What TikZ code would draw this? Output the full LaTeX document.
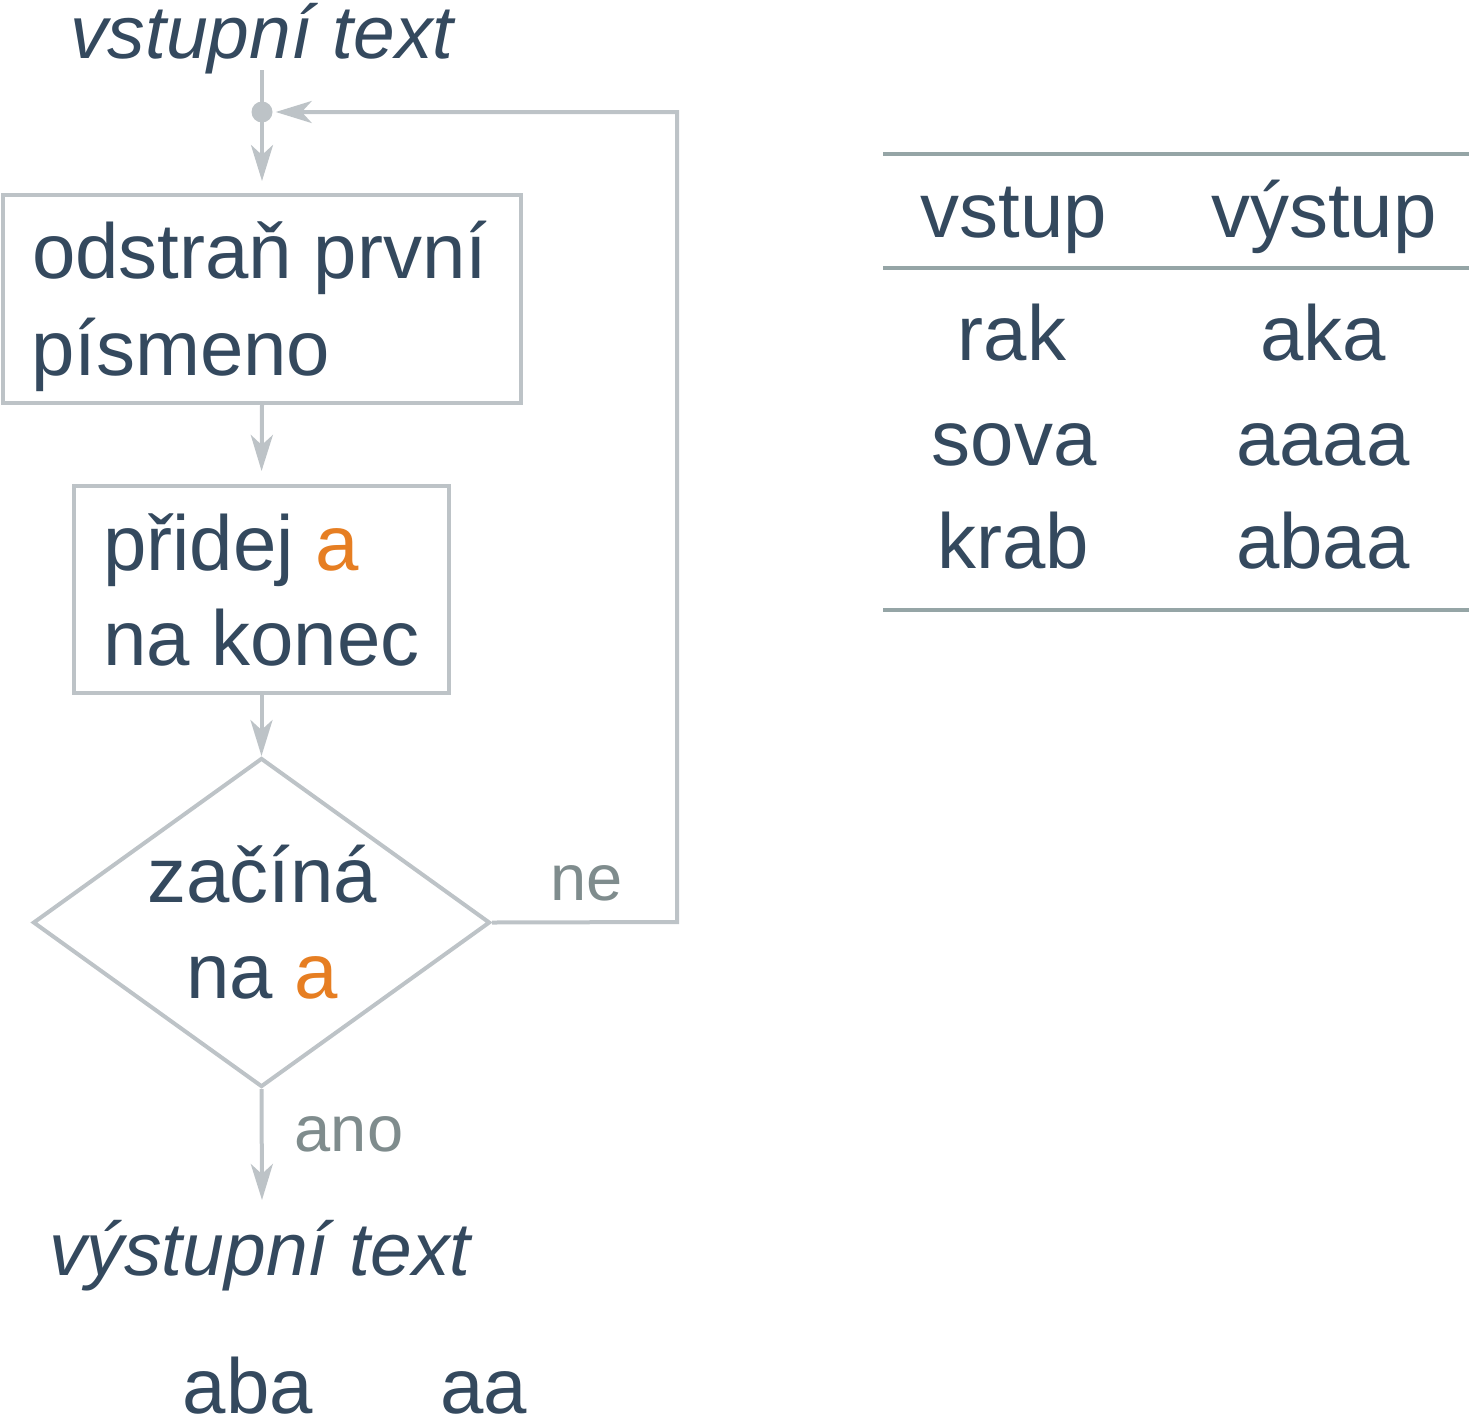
\documentclass[tikz,border=0pt]{standalone}
\usepackage{fontspec}
\setmainfont{Liberation Sans}
\usetikzlibrary{arrows.meta,shapes.geometric}
\definecolor{ink}{HTML}{34495E}
\definecolor{hl}{HTML}{E67E22}
\definecolor{wire}{HTML}{BDC3C7}
\definecolor{lbl}{HTML}{7F8C8D}
\definecolor{rulec}{HTML}{95A5A6}
\tikzset{
  txt/.style={font=\fontsize{78}{94}\selectfont, text=ink, inner sep=0pt, anchor=base},
  ital/.style={font=\fontsize{75}{90}\selectfont\itshape, text=ink, inner sep=0pt, anchor=base},
  small/.style={font=\fontsize{65}{80}\selectfont, text=lbl, inner sep=0pt, anchor=base},
  stepbox/.style={draw=wire, line width=4pt, rectangle, inner sep=0pt},
  decision/.style={draw=wire, line width=4pt, diamond, inner sep=0pt},
  wireline/.style={draw=wire, line width=4pt},
  arr/.style={wireline, -{Stealth[length=36pt, width=22pt, inset=10pt]}},
  tabrule/.style={draw=rulec, line width=4pt},
}
\begin{document}
\begin{tikzpicture}[x=1pt,y=-1pt]
\path[use as bounding box] (0,0) rectangle (1469,1427);

% input
\node[ital] (intext) at (262,58) {vstupní text};
\coordinate (instart) at (262,70);
\node[circle, fill=wire, inner sep=0pt, minimum size=21pt] (dot) at (262,112) {};

% boxes
\node[stepbox, minimum width=518pt, minimum height=208pt] (b1) at (262,299) {};
\node[txt, anchor=base west] (b1l1) at (32,278) {odstraň první};
\node[txt, anchor=base west] (b1l2) at (31,375) {písmeno};

\node[stepbox, minimum width=375pt, minimum height=207pt] (b2) at (261.5,589.5) {};
\node[txt, anchor=base west] (b2l1) at (103,570) {přidej \textcolor{hl}{a}};
\node[txt, anchor=base west] (b2l2) at (103,665) {na konec};

% decision
\node[decision, minimum width=457pt, minimum height=329pt] (dec) at (261.5,922.5) {};
\node[txt] (d1) at (262,902) {začíná};
\node[txt] (d2) at (262,998) {na \textcolor{hl}{a}};

\coordinate (loopb) at (677,922);
\coordinate (loopt) at (677,112);
\node[small] (ne) at (587,900) {ne};

\coordinate (outend) at (262,1200);
\node[small] (ano) at (349,1151) {ano};
\node[ital] (outtext) at (260,1275) {výstupní text};

\node[txt] (r1) at (248,1413) {aba};
\node[txt] (r2) at (484,1413) {aa};

% connectors
\draw[wireline] (instart) -- (dot.center);
\draw[arr, shorten >=12pt] (dot.center) -- (b1.north);
\draw[arr, shorten >=13pt] (b1.south) -- (b2.north);
\draw[arr] (b2.south) -- (dec.north);
\draw[arr] (dec.south) -- (outend);
\draw[arr, shorten >=3pt] (dec.east) -- (loopb) -- (loopt) -- (dot.east);

% table
\coordinate (tl) at (883,154);
\coordinate (tr) at (1469,154);
\coordinate (ml) at (883,268);
\coordinate (mr) at (1469,268);
\coordinate (bl) at (883,610);
\coordinate (br) at (1469,610);
\draw[tabrule] (tl) -- (tr);
\draw[tabrule] (ml) -- (mr);
\draw[tabrule] (bl) -- (br);

\node[txt] (h1) at (1014,237) {vstup};
\node[txt] (h2) at (1324,237) {výstup};
\node[txt] (c11) at (1012,360) {rak};
\node[txt] (c12) at (1323,360) {aka};
\node[txt] (c21) at (1014,465) {sova};
\node[txt] (c22) at (1323,465) {aaaa};
\node[txt] (c31) at (1013,568) {krab};
\node[txt] (c32) at (1323,568) {abaa};
\end{tikzpicture}
\end{document}
